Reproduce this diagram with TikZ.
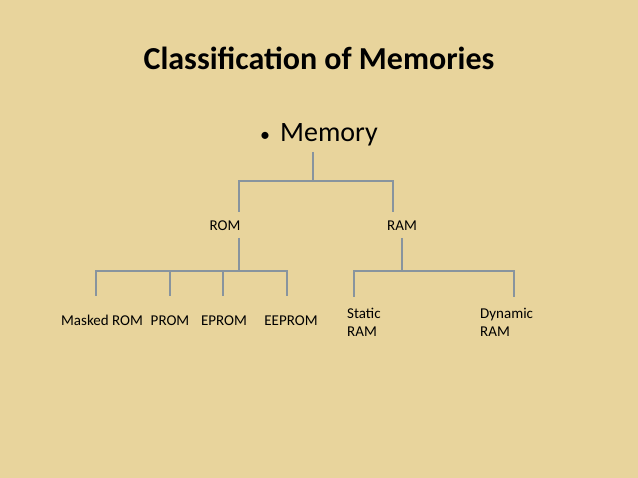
\documentclass[tikz,border=0pt]{standalone}
\usepackage{fontspec}
\setmainfont{Carlito}
\usetikzlibrary{positioning}
\definecolor{parchment}{RGB}{232,212,156}
\definecolor{branch}{RGB}{136,148,158}

\begin{document}
\begin{tikzpicture}[x=1pt, y=-1pt,
				heading/.style={anchor=base, font=\fontsize{32}{36}\selectfont\bfseries},
				root/.style={anchor=base, font=\fontsize{28}{32}\selectfont},
				label/.style={anchor=base, inner sep=0pt, font=\fontsize{15}{18}\selectfont},
				twoline/.style={anchor=north west, inner sep=0pt, align=left, font=\fontsize{15}{18}\selectfont},
				tree/.style={draw=branch, line width=1.2pt}
			]
			\fill[parchment] (0,0) rectangle (638,478);
			\useasboundingbox (0,0) rectangle (638,478);
			\node[heading] (title) at (319,70) {Classification of Memories};
			\node[root] (memory) at (319,142) {{\fontsize{20}{24}\selectfont\textbullet}\hspace{10pt}Memory};
			\node[label] (rom) at (225,231) {ROM};
			\node[label] (ram) at (402,231) {RAM};
			\node[label] (masked) at (102,326) {Masked ROM};
			\node[label] (prom) at (170,326) {PROM};
			\node[label] (eprom) at (224,326) {EPROM};
			\node[label] (eeprom) at (291,326) {EEPROM};
			\node[twoline] (static) at (347,308) {Static\\RAM};
			\node[twoline] (dynamic) at (480,308) {Dynamic\\RAM};
			% joints of the tree
			\coordinate (memory stem) at (313,152);
			\coordinate (memory fork) at (313,181);
			\coordinate (rom top) at (239,212);
			\coordinate (ram top) at (393,212);
			\coordinate (rom stem) at (239,238);
			\coordinate (rom fork) at (239,271);
			\coordinate (ram stem) at (402,238);
			\coordinate (ram fork) at (402,271);
			\draw[tree] (memory stem) -- (memory fork);
			\draw[tree] (memory fork) -| (rom top);
			\draw[tree] (memory fork) -| (ram top);
			\draw[tree] (rom stem) -- (rom fork);
			\draw[tree] (ram stem) -- (ram fork);
			\foreach \leaf/\x in {masked/96, prom/170, eprom/223, eeprom/287} {
				\coordinate (\leaf top) at (\x,296);
				\draw[tree] (rom fork) -| (\leaf top);
			}
			\foreach \leaf/\x in {static/354, dynamic/514} {
				\coordinate (\leaf top) at (\x,297);
				\draw[tree] (ram fork) -| (\leaf top);
			}
			\end{tikzpicture}
\end{document}
